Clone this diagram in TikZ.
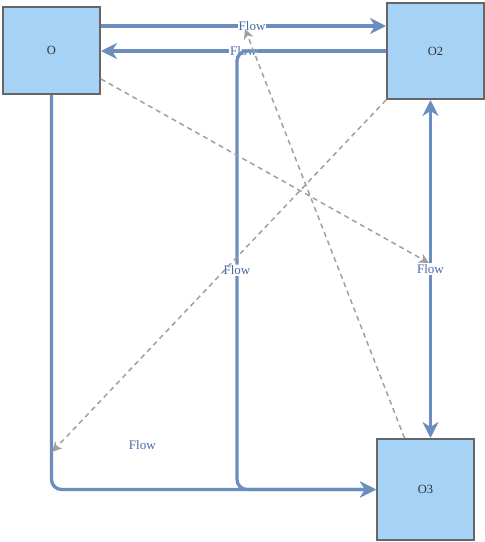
\documentclass[tikz,border=0pt]{standalone}
\usepackage{fontspec}
\setmainfont{Liberation Serif}
\usetikzlibrary{arrows.meta, calc}
\definecolor{boxfill}{HTML}{A6D2F6}
\definecolor{boxline}{HTML}{666666}
\definecolor{boxtext}{HTML}{333333}
\definecolor{flowblue}{HTML}{6C8EBF}
\definecolor{flowtext}{HTML}{4A68A8}
\definecolor{hintgray}{HTML}{A0A0A0}

\begin{document}
\begin{tikzpicture}[
    x=1pt, y=-1pt,
    >={Stealth[length=16pt, width=16pt, inset=5pt]},
    box/.style={draw=boxline, line width=2pt, fill=boxfill, text=boxtext,
      font=\fontsize{12.5}{14}\selectfont},
    flow/.style={draw=flowblue, line width=3.3pt, ->},
    lbl/.style={fill=white, text=flowtext, inner sep=1pt,
      font=\fontsize{13}{15}\selectfont},
    hint/.style={draw=hintgray, line width=1.5pt, dash pattern=on 5pt off 4pt,
      -{Stealth[length=10pt, width=10pt, inset=3pt]}}
  ]
    \useasboundingbox (0,0) rectangle (485,542);

    \node[box, minimum width=97, minimum height=87] (O) at (51.5,50.5) {O};
    \node[box, minimum width=97, minimum height=96] (O2) at (435.5,51) {O2};
    \node[box, minimum width=97, minimum height=101] (O3) at (425.5,489.5) {O3};

    \coordinate (a) at ([yshift=24.5pt]O.east);
    \coordinate (v) at ($(O2.south)!0.5!(O3.north)$);
    \coordinate (t1) at (429,263);
    \coordinate (t2) at (52,452);
    \coordinate (t3) at (245,29);

    \draw[flow] (a) -- (a -| O2.west) node[lbl, pos=0.53] (l1) {Flow};
    \draw[flow] (O2.west) -- (O2.west -| O.east) node[lbl, pos=0.5] (l2) {Flow};
    \draw[flow, rounded corners=10pt] (O.south) |- (O3.west)
        node[lbl, pos=0.64, yshift=44pt] (l3) {Flow};
    \draw[flow, rounded corners=10pt] (O2.west) -| ([xshift=-139pt]O3.west)
        node[lbl, pos=0.75] (l4) {Flow} -- (O3.west);
    \draw[flow, <->] (v |- O2.south) -- (v |- O3.north) node[lbl, midway] (l5) {Flow};

    % dashed hints
    \draw[hint] ([yshift=-28.5pt]O.east) -- (t1);
    \draw[hint] (O2.south west) -- (t2);
    \draw[hint] ([xshift=-21pt]O3.north) -- (t3);
\end{tikzpicture}
\end{document}
